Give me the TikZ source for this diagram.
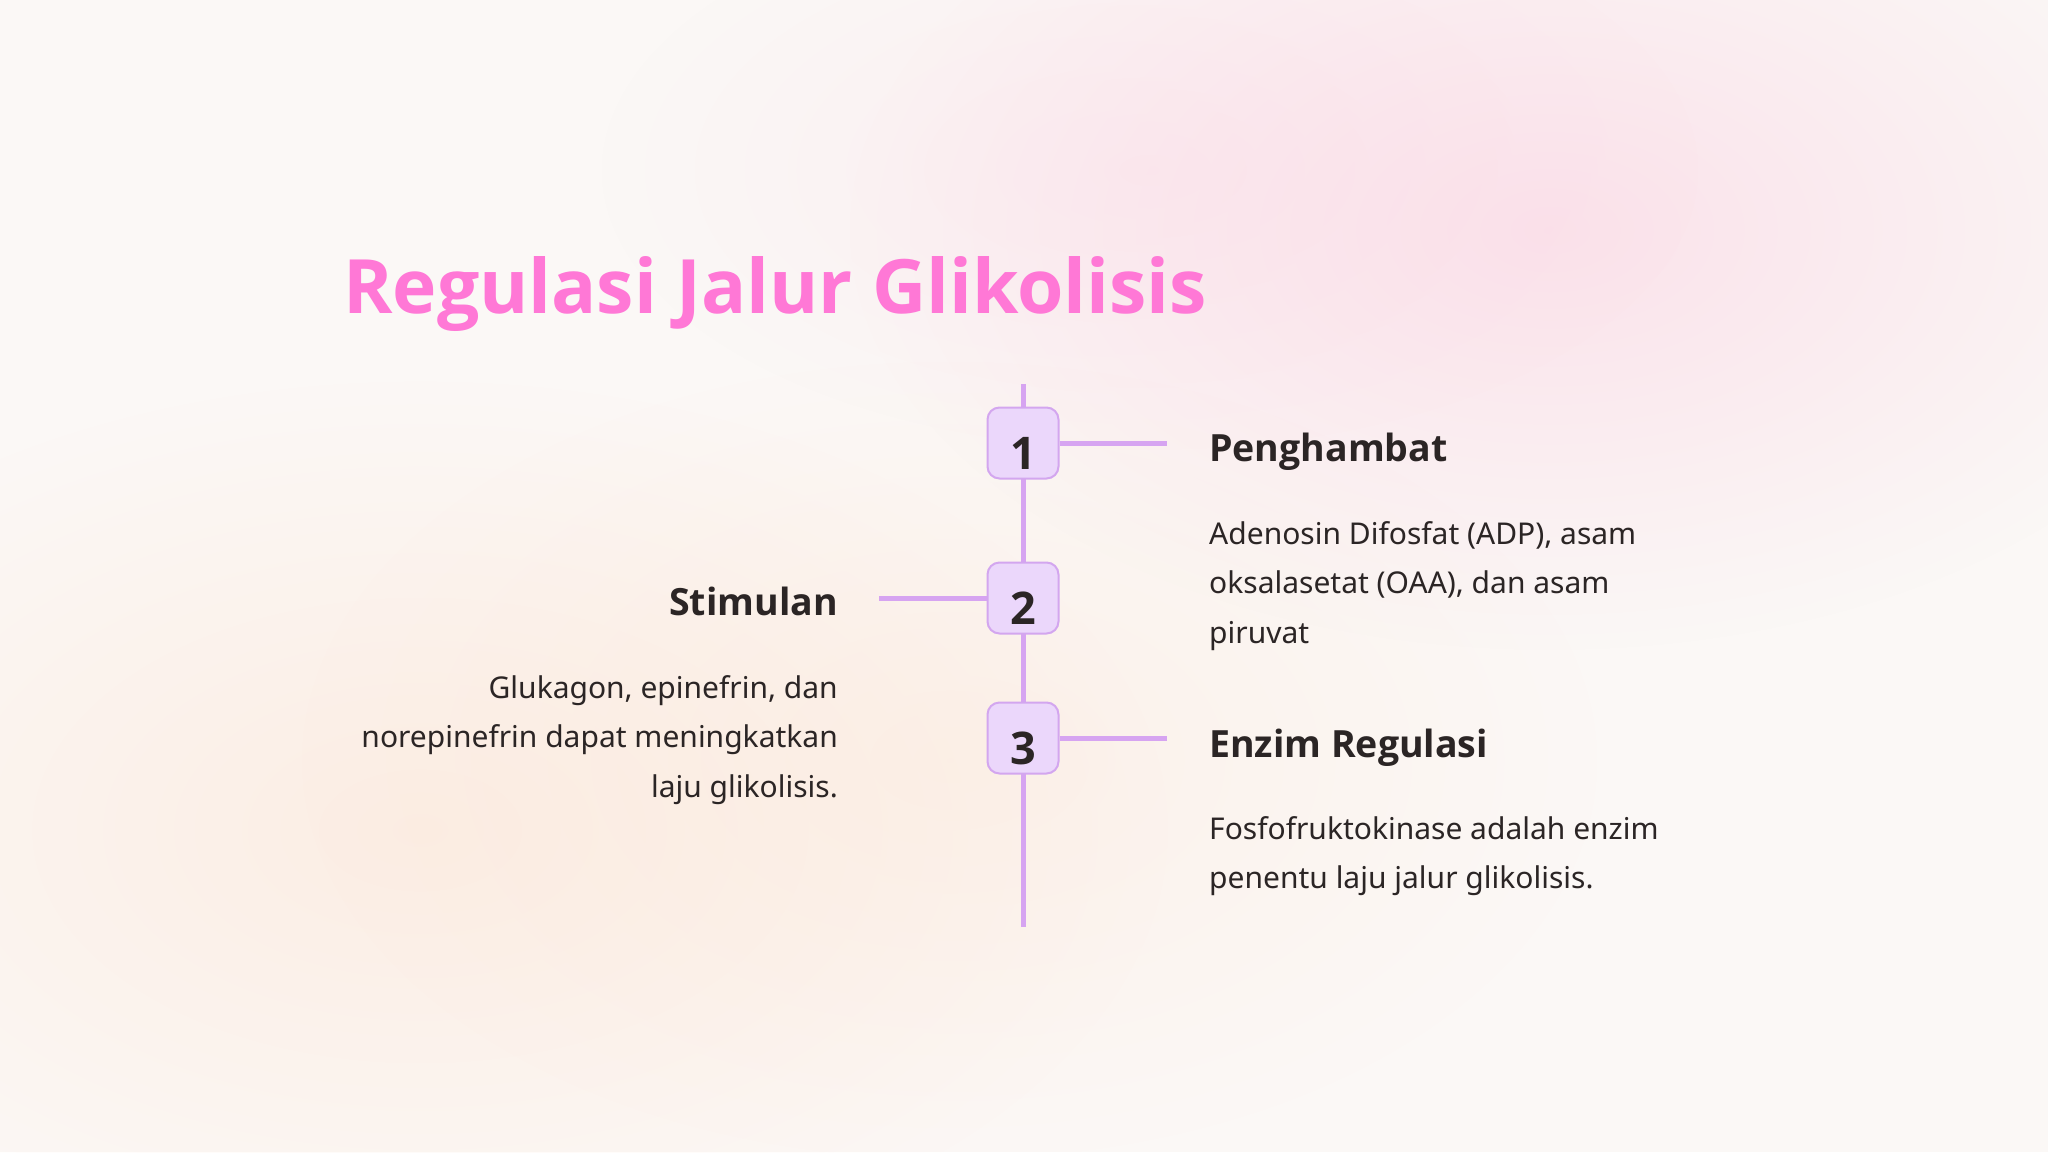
\documentclass[tikz,border=0pt]{standalone}
\usepackage{fontspec}
\setmainfont{Noto Sans}
\newfontfamily\headfont{Open Sans}
\usetikzlibrary{fadings}
\tikzfading[name=softblob, inner color=transparent!0, outer color=transparent!100]
\definecolor{bgbase}{HTML}{FBF8F6}
\definecolor{blobpink}{HTML}{FAD3E3}
\definecolor{blobpeach}{HTML}{FBE1CD}
\definecolor{titlepink}{HTML}{FF78D6}
\definecolor{linepurple}{HTML}{D6A4F1}
\definecolor{boxfill}{HTML}{EBD7FB}
\definecolor{boxdraw}{HTML}{D3A6EF}
\definecolor{textdark}{HTML}{2B2525}
\tikzset{
  tline/.style={draw=linepurple, line width=5pt},
  numbox/.style={draw=boxdraw, fill=boxfill, line width=2pt, rounded corners=12pt,
    minimum width=71pt, minimum height=71pt, inner sep=0pt,
    text height=52pt, text depth=0pt,
    font=\headfont\bfseries\fontsize{45}{50}\selectfont, text=textdark},
  heading/.style={font=\headfont\bfseries\fontsize{37.5}{45}\selectfont, text=textdark, inner sep=0pt},
  body/.style={font=\fontsize{30}{49.5}\selectfont, text=textdark, inner sep=0pt},
}
\begin{document}
\begin{tikzpicture}[x=1pt, y=-1pt]
\useasboundingbox (0,0) rectangle (2048,1152);
\fill[bgbase] (0,0) rectangle (2048,1152);
% soft background blobs
\fill[blobpink, opacity=0.6, path fading=softblob] (1550,230) ellipse [x radius=700, y radius=420];
\fill[blobpink, opacity=0.3, path fading=softblob] (1150,170) ellipse [x radius=550, y radius=280];
\fill[blobpeach, opacity=0.45, path fading=softblob] (420,830) ellipse [x radius=750, y radius=450];
\fill[blobpeach, opacity=0.3, path fading=softblob] (950,760) ellipse [x radius=650, y radius=400];

% title
\node[anchor=base west, inner sep=0pt, text=titlepink, font=\headfont\bfseries\fontsize{75}{90}\selectfont]
  (title) at (343,313) {Regulasi Jalur Glikolisis};

% timeline
\coordinate (ttop) at (1023,384);
\coordinate (tbot) at (1023,927);
\draw[tline] (ttop) -- (tbot);

\node[numbox] (b1) at (1023,443) {1};
\node[numbox] (b2) at (1023,598) {2};
\node[numbox] (b3) at (1023,738) {3};

\coordinate (e1) at (1167,443);
\coordinate (e2) at (879,598);
\coordinate (e3) at (1167,738);
\draw[tline] (b1.east) -- (e1);
\draw[tline] (b2.west) -- (e2);
\draw[tline] (b3.east) -- (e3);

% texts
\node[heading, anchor=base west] (h1) at (1209,461) {Penghambat};
\node[body, anchor=base west] (t1) at (1209,544)
  {\parbox[t]{520pt}{\raggedright Adenosin Difosfat (ADP), asam\\oksalasetat (OAA), dan asam\\piruvat}};

\node[heading, anchor=base east] (h2) at (838,615) {Stimulan};
\node[body, anchor=base east] (t2) at (838,698)
  {\parbox[t]{520pt}{\raggedleft Glukagon, epinefrin, dan\\norepinefrin dapat meningkatkan\\laju glikolisis.}};

\node[heading, anchor=base west] (h3) at (1209,757) {Enzim Regulasi};
\node[body, anchor=base west] (t3) at (1209,839)
  {\parbox[t]{520pt}{\raggedright Fosfofruktokinase adalah enzim\\penentu laju jalur glikolisis.}};
\end{tikzpicture}
\end{document}
